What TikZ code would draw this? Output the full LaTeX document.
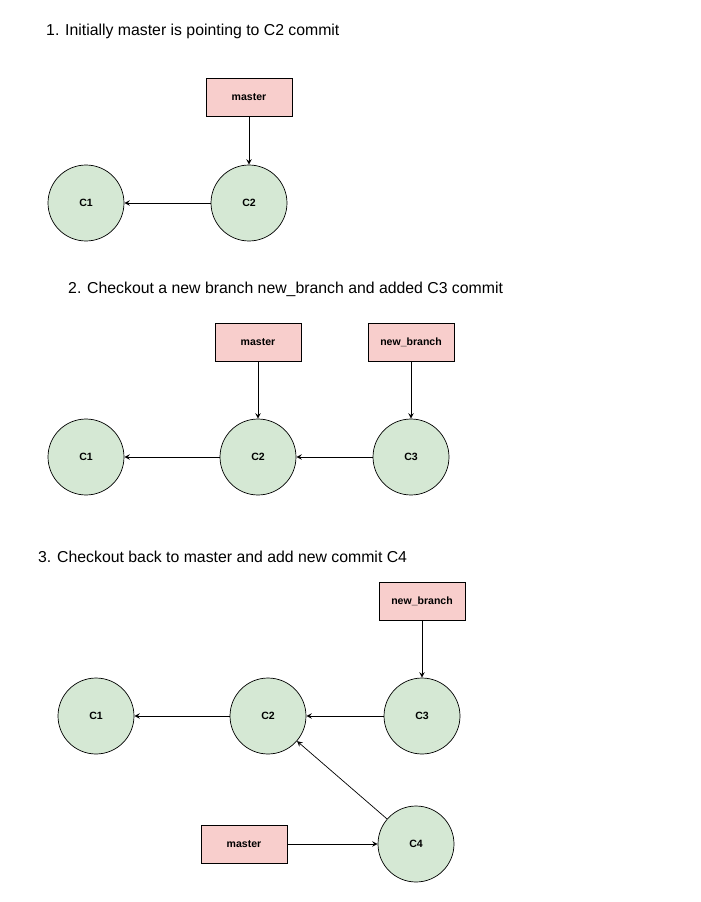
\documentclass[tikz,border=0pt]{standalone}
\usepackage{fontspec}
\setmainfont{Liberation Sans}
\usetikzlibrary{positioning}
\definecolor{refpink}{HTML}{F8CECC}
\definecolor{refgreen}{HTML}{D5E8D4}
\begin{document}
\begin{tikzpicture}[
x=0.02cm, y=-0.02cm,
font=\fontsize{9}{11}\selectfont,
commit/.style={circle,draw,fill=refgreen,minimum size=1.52cm,inner sep=0pt,font=\bfseries\fontsize{6}{7}\selectfont},
branch/.style={rectangle,draw,fill=refpink,minimum width=1.72cm,minimum height=0.76cm,inner sep=0pt,font=\bfseries\fontsize{6}{7}\selectfont},
link/.style={->,>=stealth}
]
    \useasboundingbox (0,0) rectangle (700,902);
    % Step 1
    \node (titleA) [anchor=west] at (40,31) {1. Initially master is pointing to C2 commit};
    \node (masterA) [branch] at (249,97) {master};
    \node (aC1) [commit] at (86,203) {C1};
    \node (aC2) [commit] at (249,203) {C2};
    \draw[link] (masterA) -- (aC2);
    \draw[link] (aC2) -- (aC1);

    % Step 2
    \node (titleB) [anchor=west] at (62,289) {2. Checkout a new branch new\_branch and added C3 commit};
    \node (masterB) [branch] at (258,342) {master};
    \node (newB) [branch] at (411,342) {new\_branch};
    \node (bC1) [commit] at (86,457) {C1};
    \node (bC2) [commit] at (258,457) {C2};
    \node (bC3) [commit] at (411,457) {C3};
    \draw[link] (masterB) -- (bC2);
    \draw[link] (newB) -- (bC3);
    \draw[link] (bC2) -- (bC1);
    \draw[link] (bC3) -- (bC2);

    % Step 3
    \node (titleC) [anchor=west] at (32,557) {3. Checkout back to master and add new commit C4};
    \node (newC) [branch] at (422,601) {new\_branch};
    \node (cC1) [commit] at (96,716) {C1};
    \node (cC2) [commit] at (268,716) {C2};
    \node (cC3) [commit] at (422,716) {C3};
    \node (cC4) [commit] at (416,844) {C4};
    \node (masterC) [branch] at (244,844) {master};
    \draw[link] (newC) -- (cC3);
    \draw[link] (cC2) -- (cC1);
    \draw[link] (cC3) -- (cC2);
    \draw[link] (cC4) -- (cC2);
    \draw[link] (masterC) -- (cC4);
\end{tikzpicture}
\end{document}
